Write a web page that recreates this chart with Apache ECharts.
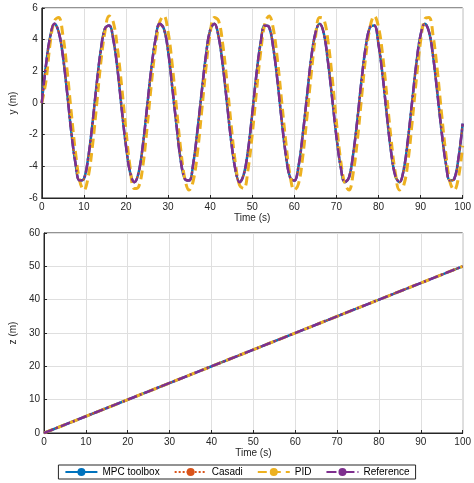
<!DOCTYPE html>
<html><head><meta charset="utf-8">
<script src="https://cdn.jsdelivr.net/npm/echarts@6/dist/echarts.min.js"></script>
<style>html,body{margin:0;padding:0;background:#fff}#c{width:474px;height:483px}</style>
</head><body><div id="c"></div>
<script>
// sample times (s), 1 s grid
var time = Array.from({length: 101}, function (_, i) { return i; });
var yRef = [0,2.4,4.2,5.0,4.5,3.0,0.7,-1.8,-3.8,-4.9,-4.8,-3.5,-1.4,1.1,3.3,4.7,4.9,4.0,2.1,-0.4,
  -2.7,-4.4,-5.0,-4.4,-2.7,-0.3,2.1,4.0,5.0,4.7,3.3,1.0,-1.4,-3.6,-4.8,-4.9,-3.8,-1.7,0.7,3.0,
  4.6,5.0,4.2,2.4,0.0,-2.4,-4.2,-5.0,-4.5,-3.0,-0.7,1.8,3.8,4.9,4.8,3.5,1.4,-1.1,-3.3,-4.7,
  -4.9,-4.0,-2.0,0.4,2.8,4.4,5.0,4.4,2.6,0.3,-2.1,-4.0,-5.0,-4.7,-3.2,-1.0,1.5,3.6,4.8,4.9,
  3.7,1.7,-0.8,-3.1,-4.6,-5.0,-4.2,-2.3,0.1,2.5,4.3,5.0,4.5,2.9,0.6,-1.8,-3.8,-4.9,-4.8,-3.5,-1.3];
var yMpc = yRef.slice();
var yCasadi = yRef.slice();
var yPid = [0,1.4,3.8,5.2,5.4,4.3,2.1,-0.6,-3.1,-4.9,-5.5,-4.7,-2.8,-0.2,2.5,4.5,5.5,5.1,3.4,1.0,
  -1.7,-4.1,-5.4,-5.3,-4.0,-1.6,1.1,3.5,5.1,5.5,4.5,2.4,-0.3,-2.9,-4.8,-5.5,-4.9,-3.1,-0.5,2.2,
  4.4,5.4,5.2,3.7,1.3,-1.4,-3.8,-5.2,-5.4,-4.2,-2.0,0.7,3.2,5.0,5.5,4.7,2.7,0.1,-2.5,-4.6,
  -5.5,-5.1,-3.4,-0.9,1.8,4.1,5.4,5.3,3.9,1.6,-1.2,-3.6,-5.1,-5.5,-4.4,-2.3,0.4,3.0,4.8,5.5,
  4.8,3.0,0.4,-2.3,-4.4,-5.5,-5.2,-3.7,-1.2,1.5,3.9,5.3,5.4,4.2,2.0,-0.7,-3.2,-5.0,-5.5,-4.7,-2.7];
var zTime = [0, 100];
var zValues = [0, 50];
var names = ['MPC toolbox', 'Casadi', 'PID', 'Reference'];
var colors = ['#0072BD', '#D95319', '#EDB120', '#7E2F8E'];

function pairs(xs, ys) { return xs.map(function (x, i) { return [x, ys[i]]; }); }

var font = 'Liberation Sans, Arial, sans-serif';
function xAxis(idx) {
  return {
    type: 'value', gridIndex: idx, min: 0, max: 100, interval: 10,
    name: 'Time (s)', nameLocation: 'middle', nameGap: 14,
    nameTextStyle: {color: '#262626', fontSize: 10, fontFamily: font},
    axisLine: {onZero: false, lineStyle: {color: '#262626'}},
    axisTick: {inside: true, length: 3, lineStyle: {color: '#262626'}},
    axisLabel: {color: '#262626', fontSize: 10, margin: 4, fontFamily: font},
    splitLine: {lineStyle: {color: '#dfdfdf'}}
  };
}
function yAxis(idx, name, min, max, step) {
  return {
    type: 'value', gridIndex: idx, min: min, max: max, interval: step,
    name: name, nameLocation: 'middle', nameGap: 16,
    nameTextStyle: {color: '#262626', fontSize: 10, fontFamily: font},
    axisLine: {show: true, onZero: false, lineStyle: {color: '#262626'}},
    axisTick: {show: true, inside: true, length: 3, lineStyle: {color: '#262626'}},
    axisLabel: {color: '#262626', fontSize: 10, margin: 4, fontFamily: font},
    splitLine: {lineStyle: {color: '#dfdfdf'}}
  };
}
var styles = [
  {type: 'solid', width: 2.5},
  {type: [2, 2], width: 2},
  {type: [9, 5], width: 3},
  {type: [10, 3, 2, 3], width: 2.5}
];
var series = [];
[yMpc, yCasadi, yPid, yRef].forEach(function (ys, i) {
  series.push({name: names[i], type: 'line', xAxisIndex: 0, yAxisIndex: 0, smooth: 0.4,
    symbol: 'none', data: pairs(time, ys),
    lineStyle: {color: colors[i], width: styles[i].width, type: styles[i].type}, itemStyle: {color: colors[i]}});
});
names.forEach(function (n, i) {
  series.push({name: n, type: 'line', xAxisIndex: 1, yAxisIndex: 1, symbol: 'none',
    data: pairs(zTime, zValues),
    lineStyle: {color: colors[i], width: styles[i].width, type: styles[i].type}, itemStyle: {color: colors[i]}});
});

var chart = echarts.init(document.getElementById('c'));
chart.setOption({
  animation: false,
  grid: [
    {left: 33, right: 11, top: 8, height: 190, show: true, borderColor: '#262626', backgroundColor: 'transparent'},
    {left: 33, right: 11, top: 233, height: 200, show: true, borderColor: '#262626', backgroundColor: 'transparent'}
  ],
  xAxis: [xAxis(0), xAxis(1)],
  yAxis: [yAxis(0, 'y (m)', -6, 6, 2), yAxis(1, 'z (m)', 0, 60, 10)],
  legend: {
    data: names, bottom: 4, left: 'center', itemWidth: 32, itemHeight: 10, itemGap: 14,
    borderColor: '#262626', borderWidth: 1, padding: [2, 6],
    textStyle: {color: '#000', fontSize: 10, fontFamily: font}
  },
  series: series
});
</script>
</body></html>
